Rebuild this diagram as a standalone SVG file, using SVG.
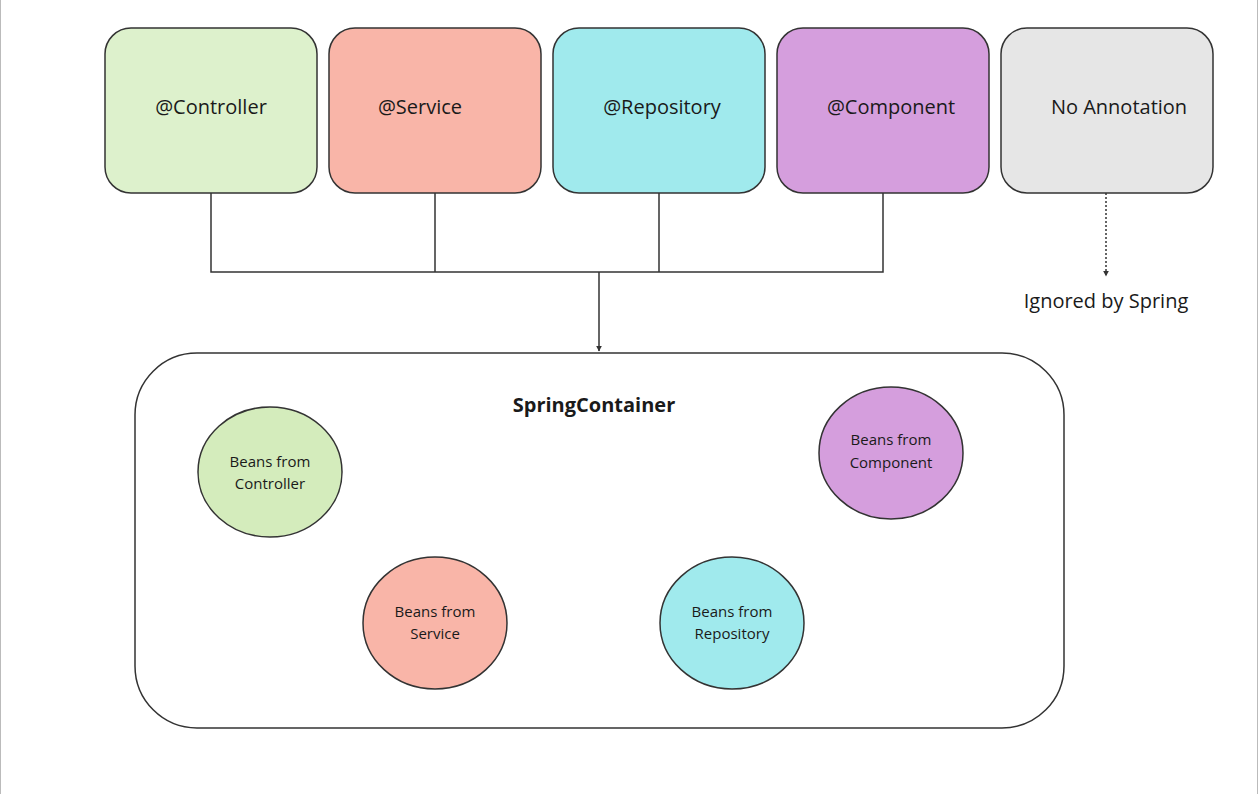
<svg xmlns="http://www.w3.org/2000/svg" width="1258" height="794" viewBox="0 0 1258 794">
<style>
text{font-family:"Open Sans","Noto Sans",sans-serif;fill:#1a1a1a;text-anchor:middle}
.box{stroke:#333;stroke-width:1.5}
.big{font-size:20px}
.small{font-size:15px}
.ln{fill:none;stroke:#333;stroke-width:1.5}
</style>
<defs>
<marker id="ah" viewBox="0 0 10 10" refX="9" refY="5" markerWidth="4" markerHeight="4" orient="auto"><path d="M0,0L10,5L0,10z" fill="#333"/></marker>
</defs>
<rect x="0.5" y="-1" width="1257" height="796" fill="#fff" stroke="#bbb"/>
<g id="controller"><rect class="box" x="105" y="28" width="212" height="165" rx="26" fill="#ddf1cc"/><text class="big" x="211" y="114">@Controller</text></g>
<g id="service"><rect class="box" x="329" y="28" width="212" height="165" rx="26" fill="#f9b5a8"/><text class="big" x="420" y="114">@Service</text></g>
<g id="repository"><rect class="box" x="553" y="28" width="212" height="165" rx="26" fill="#a0eaed"/><text class="big" x="662" y="114">@Repository</text></g>
<g id="component"><rect class="box" x="777" y="28" width="212" height="165" rx="26" fill="#d59edd"/><text class="big" x="891" y="114">@Component</text></g>
<g id="noannotation"><rect class="box" x="1001" y="28" width="212" height="165" rx="26" fill="#e6e6e6"/><text class="big" x="1119" y="114">No Annotation</text></g>
<g id="ignored"><text class="big" x="1106" y="308">Ignored by Spring</text></g>
<g id="connectors">
<path class="ln" d="M211,193V272H883V193M435,193V272M659,193V272"/>
<path class="ln" d="M599,272V351" stroke-width="2" marker-end="url(#ah)"/>
<path class="ln" d="M1106,193V276" stroke-dasharray="2,2" marker-end="url(#ah)"/>
</g>
<g id="container"><rect class="box" x="135" y="353" width="929" height="375" rx="62" fill="#fff"/><text x="594" y="412" style="font-size:20px;font-weight:bold">SpringContainer</text></g>
<g id="bc"><ellipse class="box" cx="270" cy="472" rx="72" ry="65" fill="#d4ecbc"/><text class="small" x="270" y="467">Beans from</text><text class="small" x="270" y="489">Controller</text></g>
<g id="bs"><ellipse class="box" cx="435" cy="623" rx="72" ry="66" fill="#f9b5a8"/><text class="small" x="435" y="617">Beans from</text><text class="small" x="435" y="639">Service</text></g>
<g id="br"><ellipse class="box" cx="732" cy="623" rx="72" ry="66" fill="#a0eaed"/><text class="small" x="732" y="617">Beans from</text><text class="small" x="732" y="639">Repository</text></g>
<g id="bcomp"><ellipse class="box" cx="891" cy="453" rx="72" ry="66" fill="#d59edd"/><text class="small" x="891" y="445">Beans from</text><text class="small" x="891" y="468">Component</text></g>
</svg>
